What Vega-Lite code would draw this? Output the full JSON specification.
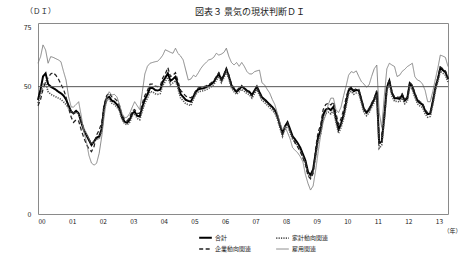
{
"$schema": "https://vega.github.io/schema/vega-lite/v6.json",
"width": 410, "height": 191,
"autosize": {"type": "none"},
"padding": {"left": 38, "top": 23, "right": 26, "bottom": 65},
"background": "white",
"config": {"font": "Noto Sans CJK JP", "view": {"stroke": "#8a8a8a", "strokeWidth": 1}},
"title": {"text": "図表３ 景気の現状判断ＤＩ", "fontSize": 9, "fontWeight": "normal", "color": "#222", "anchor": "middle", "frame": "group", "dx": 7, "offset": 5, "dy": 15},
"data": {"format": {"parse": {"month": "utc:'%Y-%m'"}}, "values": [
{"month":"2000-01","合計":44.8,"家計動向関連":43.5,"企業動向関連":42.5,"雇用関連":59.2},
{"month":"2000-02","合計":49,"家計動向関連":47,"企業動向関連":45,"雇用関連":61.8},
{"month":"2000-03","合計":54,"家計動向関連":51,"企業動向関連":49,"雇用関連":66.4},
{"month":"2000-04","合計":55.2,"家計動向関連":51.5,"企業動向関連":52,"雇用関連":64.4},
{"month":"2000-05","合計":51,"家計動向関連":48,"企業動向関連":53.5,"雇用関連":59.2},
{"month":"2000-06","合計":50,"家計動向関連":47,"企業動向関連":55,"雇用関連":61.8},
{"month":"2000-07","合計":49.4,"家計動向関連":46.5,"企業動向関連":55.5,"雇用関連":61.5},
{"month":"2000-08","合計":48.8,"家計動向関連":46,"企業動向関連":54.5,"雇用関連":61},
{"month":"2000-09","合計":48,"家計動向関連":45.5,"企業動向関連":53,"雇用関連":60.5},
{"month":"2000-10","合計":47.4,"家計動向関連":45,"企業動向関連":51,"雇用関連":59.8},
{"month":"2000-11","合計":46.5,"家計動向関連":44,"企業動向関連":49,"雇用関連":56},
{"month":"2000-12","合計":45,"家計動向関連":43,"企業動向関連":46,"雇用関連":52.6},
{"month":"2001-01","合計":42.5,"家計動向関連":41.5,"企業動向関連":41.5,"雇用関連":46},
{"month":"2001-02","合計":40.2,"家計動向関連":40,"企業動向関連":38,"雇用関連":42},
{"month":"2001-03","合計":39.5,"家計動向関連":39.5,"企業動向関連":36,"雇用関連":42},
{"month":"2001-04","合計":40.5,"家計動向関連":40,"企業動向関連":37,"雇用関連":43},
{"month":"2001-05","合計":39.5,"家計動向関連":39.5,"企業動向関連":36.5,"雇用関連":44.1},
{"month":"2001-06","合計":36,"家計動向関連":36.5,"企業動向関連":33,"雇用関連":38.5},
{"month":"2001-07","合計":33,"家計動向関連":33.5,"企業動向関連":30,"雇用関連":32.5},
{"month":"2001-08","合計":31,"家計動向関連":31.5,"企業動向関連":27.5,"雇用関連":28.5},
{"month":"2001-09","合計":29,"家計動向関連":29.5,"企業動向関連":25.5,"雇用関連":23},
{"month":"2001-10","合計":27.1,"家計動向関連":27.5,"企業動向関連":24.5,"雇用関連":20},
{"month":"2001-11","合計":28.5,"家計動向関連":28.5,"企業動向関連":26.5,"雇用関連":19.2},
{"month":"2001-12","合計":30,"家計動向関連":29.5,"企業動向関連":31,"雇用関連":19.9},
{"month":"2002-01","合計":30.4,"家計動向関連":29.5,"企業動向関連":33,"雇用関連":23.8},
{"month":"2002-02","合計":33.5,"家計動向関連":32.5,"企業動向関連":36,"雇用関連":30.5},
{"month":"2002-03","合計":42,"家計動向関連":41,"企業動向関連":43,"雇用関連":38.2},
{"month":"2002-04","合計":45.5,"家計動向関連":44.5,"企業動向関連":46.5,"雇用関連":45.4},
{"month":"2002-05","合計":46,"家計動向関連":45,"企業動向関連":47.5,"雇用関連":48},
{"month":"2002-06","合計":44.5,"家計動向関連":43.5,"企業動向関連":46,"雇用関連":46.7},
{"month":"2002-07","合計":44.1,"家計動向関連":43,"企業動向関連":45.5,"雇用関連":47},
{"month":"2002-08","合計":43,"家計動向関連":42,"企業動向関連":44.5,"雇用関連":46},
{"month":"2002-09","合計":41.5,"家計動向関連":40.5,"企業動向関連":42.5,"雇用関連":43},
{"month":"2002-10","合計":38,"家計動向関連":37,"企業動向関連":39,"雇用関連":39.5},
{"month":"2002-11","合計":36.2,"家計動向関連":35.5,"企業動向関連":37,"雇用関連":37.8},
{"month":"2002-12","合計":35.8,"家計動向関連":35,"企業動向関連":36.5,"雇用関連":38},
{"month":"2003-01","合計":37,"家計動向関連":36,"企業動向関連":38,"雇用関連":39.5},
{"month":"2003-02","合計":39.5,"家計動向関連":38.5,"企業動向関連":40.5,"雇用関連":42},
{"month":"2003-03","合計":40.2,"家計動向関連":39.5,"企業動向関連":41,"雇用関連":44.1},
{"month":"2003-04","合計":38.5,"家計動向関連":37.5,"企業動向関連":39.5,"雇用関連":42.5},
{"month":"2003-05","合計":38.3,"家計動向関連":37,"企業動向関連":39.5,"雇用関連":41},
{"month":"2003-06","合計":42,"家計動向関連":40.5,"企業動向関連":43.5,"雇用関連":48},
{"month":"2003-07","合計":45,"家計動向関連":43.5,"企業動向関連":46.5,"雇用関連":55},
{"month":"2003-08","合計":47,"家計動向関連":45.5,"企業動向関連":48.5,"雇用関連":58},
{"month":"2003-09","合計":49.5,"家計動向関連":48,"企業動向関連":51,"雇用関連":59.2},
{"month":"2003-10","合計":49.5,"家計動向関連":48,"企業動向関連":51,"雇用関連":59.5},
{"month":"2003-11","合計":48.7,"家計動向関連":47.2,"企業動向関連":50.2,"雇用関連":59.8},
{"month":"2003-12","合計":48.5,"家計動向関連":47,"企業動向関連":50,"雇用関連":60},
{"month":"2004-01","合計":48.8,"家計動向関連":47.3,"企業動向関連":50.3,"雇用関連":61},
{"month":"2004-02","合計":52,"家計動向関連":50.5,"企業動向関連":53.5,"雇用関連":62.4},
{"month":"2004-03","合計":53.5,"家計動向関連":52,"企業動向関連":55,"雇用関連":64.5},
{"month":"2004-04","合計":55.2,"家計動向関連":53.7,"企業動向関連":57.5,"雇用関連":64},
{"month":"2004-05","合計":52.3,"家計動向関連":50.8,"企業動向関連":54,"雇用関連":63.5},
{"month":"2004-06","合計":53,"家計動向関連":51.5,"企業動向関連":54.5,"雇用関連":63.1},
{"month":"2004-07","合計":53.9,"家計動向関連":52.4,"企業動向関連":55.5,"雇用関連":65.1},
{"month":"2004-08","合計":50.5,"家計動向関連":49,"企業動向関連":52,"雇用関連":63},
{"month":"2004-09","合計":47,"家計動向関連":45.5,"企業動向関連":48.5,"雇用関連":62},
{"month":"2004-10","合計":46,"家計動向関連":44.5,"企業動向関連":47.5,"雇用関連":60.5},
{"month":"2004-11","合計":44.8,"家計動向関連":43.3,"企業動向関連":46.3,"雇用関連":56.5},
{"month":"2004-12","合計":44.4,"家計動向関連":42.9,"企業動向関連":45.9,"雇用関連":52.6},
{"month":"2005-01","合計":44.1,"家計動向関連":42.6,"企業動向関連":45.6,"雇用関連":53},
{"month":"2005-02","合計":46.1,"家計動向関連":45.1,"企業動向関連":46.6,"雇用関連":54.5},
{"month":"2005-03","合計":48,"家計動向関連":47,"企業動向関連":48.5,"雇用関連":53.9},
{"month":"2005-04","合計":49,"家計動向関連":48,"企業動向関連":49.5,"雇用関連":55.5},
{"month":"2005-05","合計":49.2,"家計動向関連":48.2,"企業動向関連":49.7,"雇用関連":57.2},
{"month":"2005-06","合計":49.4,"家計動向関連":48.4,"企業動向関連":49.9,"雇用関連":58.5},
{"month":"2005-07","合計":49.8,"家計動向関連":48.8,"企業動向関連":50.3,"雇用関連":59.5},
{"month":"2005-08","合計":50.3,"家計動向関連":49.3,"企業動向関連":50.8,"雇用関連":60.5},
{"month":"2005-09","合計":51,"家計動向関連":50,"企業動向関連":51.5,"雇用関連":60.8},
{"month":"2005-10","合計":51.8,"家計動向関連":50.8,"企業動向関連":52.3,"雇用関連":61.5},
{"month":"2005-11","合計":53.5,"家計動向関連":52.5,"企業動向関連":54,"雇用関連":63.1},
{"month":"2005-12","合計":55,"家計動向関連":54,"企業動向関連":55.5,"雇用関連":62.4},
{"month":"2006-01","合計":52.6,"家計動向関連":51.6,"企業動向関連":53.1,"雇用関連":62.8},
{"month":"2006-02","合計":54.5,"家計動向関連":53.5,"企業動向関連":55,"雇用関連":63.5},
{"month":"2006-03","合計":56.8,"家計動向関連":55.8,"企業動向関連":57.3,"雇用関連":65.1},
{"month":"2006-04","合計":54,"家計動向関連":53,"企業動向関連":54.5,"雇用関連":61.8},
{"month":"2006-05","合計":50.5,"家計動向関連":49.5,"企業動向関連":51,"雇用関連":59.5},
{"month":"2006-06","合計":49,"家計動向関連":48,"企業動向関連":49.5,"雇用関連":58.5},
{"month":"2006-07","合計":48,"家計動向関連":47,"企業動向関連":48.5,"雇用関連":59.5},
{"month":"2006-08","合計":49,"家計動向関連":48,"企業動向関連":49.5,"雇用関連":58},
{"month":"2006-09","合計":50,"家計動向関連":49,"企業動向関連":50.5,"雇用関連":59.5},
{"month":"2006-10","合計":49.4,"家計動向関連":48.2,"企業動向関連":49.1,"雇用関連":58},
{"month":"2006-11","合計":48.5,"家計動向関連":47.3,"企業動向関連":48.2,"雇用関連":56},
{"month":"2006-12","合計":48,"家計動向関連":46.8,"企業動向関連":47.7,"雇用関連":55},
{"month":"2007-01","合計":46.7,"家計動向関連":45.5,"企業動向関連":46.4,"雇用関連":55},
{"month":"2007-02","合計":48.5,"家計動向関連":47.3,"企業動向関連":48.2,"雇用関連":55.9},
{"month":"2007-03","合計":50,"家計動向関連":48.8,"企業動向関連":49.7,"雇用関連":56.2},
{"month":"2007-04","合計":47.8,"家計動向関連":46.6,"企業動向関連":47.5,"雇用関連":56.5},
{"month":"2007-05","合計":45.8,"家計動向関連":44.6,"企業動向関連":45.5,"雇用関連":51.5},
{"month":"2007-06","合計":45,"家計動向関連":43.8,"企業動向関連":44.7,"雇用関連":50.7},
{"month":"2007-07","合計":44,"家計動向関連":42.8,"企業動向関連":43.7,"雇用関連":49},
{"month":"2007-08","合計":43,"家計動向関連":41.8,"企業動向関連":42.7,"雇用関連":47.5},
{"month":"2007-09","合計":42,"家計動向関連":40.8,"企業動向関連":41.7,"雇用関連":45},
{"month":"2007-10","合計":40.8,"家計動向関連":39.6,"企業動向関連":40.5,"雇用関連":43},
{"month":"2007-11","合計":38.5,"家計動向関連":37.3,"企業動向関連":38.2,"雇用関連":39.5},
{"month":"2007-12","合計":35,"家計動向関連":33.8,"企業動向関連":34.7,"雇用関連":36},
{"month":"2008-01","合計":31.7,"家計動向関連":30.5,"企業動向関連":31.4,"雇用関連":33},
{"month":"2008-02","合計":34.5,"家計動向関連":33.3,"企業動向関連":34.2,"雇用関連":34.3},
{"month":"2008-03","合計":36,"家計動向関連":34.8,"企業動向関連":35.7,"雇用関連":32},
{"month":"2008-04","合計":33.2,"家計動向関連":32,"企業動向関連":32.9,"雇用関連":29.5},
{"month":"2008-05","合計":30.5,"家計動向関連":29.3,"企業動向関連":30.2,"雇用関連":26},
{"month":"2008-06","合計":29.2,"家計動向関連":28.2,"企業動向関連":27.7,"雇用関連":25},
{"month":"2008-07","合計":27.8,"家計動向関連":26.8,"企業動向関連":26.3,"雇用関連":24},
{"month":"2008-08","合計":26,"家計動向関連":25,"企業動向関連":24.5,"雇用関連":22.5},
{"month":"2008-09","合計":23.5,"家計動向関連":22.5,"企業動向関連":22,"雇用関連":20.5},
{"month":"2008-10","合計":21,"家計動向関連":20,"企業動向関連":19.5,"雇用関連":15.5},
{"month":"2008-11","合計":16.5,"家計動向関連":15.5,"企業動向関連":15,"雇用関連":12},
{"month":"2008-12","合計":15.3,"家計動向関連":14.3,"企業動向関連":13.8,"雇用関連":9.4},
{"month":"2009-01","合計":17.5,"家計動向関連":16.5,"企業動向関連":16,"雇用関連":11},
{"month":"2009-02","合計":24,"家計動向関連":22.5,"企業動向関連":26,"雇用関連":17.3},
{"month":"2009-03","合計":30,"家計動向関連":28.5,"企業動向関連":32,"雇用関連":24},
{"month":"2009-04","合計":33,"家計動向関連":31.5,"企業動向関連":35,"雇用関連":31},
{"month":"2009-05","合計":39,"家計動向関連":37.5,"企業動向関連":41,"雇用関連":36},
{"month":"2009-06","合計":41,"家計動向関連":39.5,"企業動向関連":43,"雇用関連":38.9},
{"month":"2009-07","合計":41.5,"家計動向関連":40,"企業動向関連":43.5,"雇用関連":43},
{"month":"2009-08","合計":40.8,"家計動向関連":39.3,"企業動向関連":42.8,"雇用関連":45.5},
{"month":"2009-09","合計":42.1,"家計動向関連":40.6,"企業動向関連":44.1,"雇用関連":45.5},
{"month":"2009-10","合計":37.5,"家計動向関連":36,"企業動向関連":39.5,"雇用関連":41},
{"month":"2009-11","合計":33.2,"家計動向関連":31.7,"企業動向関連":35.2,"雇用関連":39.8},
{"month":"2009-12","合計":35.5,"家計動向関連":34,"企業動向関連":37.5,"雇用関連":42},
{"month":"2010-01","合計":39,"家計動向関連":37.5,"企業動向関連":41,"雇用関連":46.5},
{"month":"2010-02","合計":44,"家計動向関連":42.5,"企業動向関連":46,"雇用関連":50.5},
{"month":"2010-03","合計":48.5,"家計動向関連":47.3,"企業動向関連":49,"雇用関連":54.5},
{"month":"2010-04","合計":49.4,"家計動向関連":48.2,"企業動向関連":49.9,"雇用関連":55.9},
{"month":"2010-05","合計":48.2,"家計動向関連":47,"企業動向関連":48.7,"雇用関連":55.5},
{"month":"2010-06","合計":48.7,"家計動向関連":47.5,"企業動向関連":49.2,"雇用関連":56.2},
{"month":"2010-07","合計":48.5,"家計動向関連":47.3,"企業動向関連":49,"雇用関連":54},
{"month":"2010-08","合計":44.8,"家計動向関連":43.6,"企業動向関連":45.3,"雇用関連":52},
{"month":"2010-09","合計":41,"家計動向関連":39.8,"企業動向関連":41.5,"雇用関連":51},
{"month":"2010-10","合計":39.8,"家計動向関連":38.6,"企業動向関連":40.3,"雇用関連":49.8},
{"month":"2010-11","合計":41,"家計動向関連":39.8,"企業動向関連":41.5,"雇用関連":50.7},
{"month":"2010-12","合計":43,"家計動向関連":41.8,"企業動向関連":43.5,"雇用関連":54},
{"month":"2011-01","合計":45,"家計動向関連":43.8,"企業動向関連":45.5,"雇用関連":57},
{"month":"2011-02","合計":48,"家計動向関連":46.8,"企業動向関連":48.5,"雇用関連":58.5},
{"month":"2011-03","合計":27.8,"家計動向関連":25.8,"企業動向関連":30,"雇用関連":40},
{"month":"2011-04","合計":28.4,"家計動向関連":27,"企業動向関連":31,"雇用関連":34},
{"month":"2011-05","合計":38,"家計動向関連":36.5,"企業動向関連":39.5,"雇用関連":46},
{"month":"2011-06","合計":49.6,"家計動向関連":48.4,"企業動向関連":50.1,"雇用関連":57},
{"month":"2011-07","合計":52.3,"家計動向関連":51.1,"企業動向関連":52.8,"雇用関連":59.2},
{"month":"2011-08","合計":47.5,"家計動向関連":46.3,"企業動向関連":48,"雇用関連":58.5},
{"month":"2011-09","合計":45.4,"家計動向関連":44.2,"企業動向関連":45.9,"雇用関連":57.9},
{"month":"2011-10","合計":45.5,"家計動向関連":44.3,"企業動向関連":46,"雇用関連":54},
{"month":"2011-11","合計":45.2,"家計動向関連":44,"企業動向関連":45.7,"雇用関連":54.5},
{"month":"2011-12","合計":46.7,"家計動向関連":45.5,"企業動向関連":47.2,"雇用関連":56},
{"month":"2012-01","合計":44.5,"家計動向関連":43.3,"企業動向関連":45,"雇用関連":56.8},
{"month":"2012-02","合計":45.5,"家計動向関連":44.3,"企業動向関連":46,"雇用関連":57.9},
{"month":"2012-03","合計":51.3,"家計動向関連":50.1,"企業動向関連":51.8,"雇用関連":58.5},
{"month":"2012-04","合計":50,"家計動向関連":48.8,"企業動向関連":50.5,"雇用関連":59.2},
{"month":"2012-05","合計":47,"家計動向関連":45.8,"企業動向関連":47.5,"雇用関連":53.9},
{"month":"2012-06","合計":44.5,"家計動向関連":43.3,"企業動向関連":45,"雇用関連":52.6},
{"month":"2012-07","合計":43.6,"家計動向関連":42.4,"企業動向関連":44.1,"雇用関連":52.2},
{"month":"2012-08","合計":43,"家計動向関連":41.8,"企業動向関連":43.5,"雇用関連":51},
{"month":"2012-09","合計":40.5,"家計動向関連":39.3,"企業動向関連":41,"雇用関連":48.5},
{"month":"2012-10","合計":39.2,"家計動向関連":38,"企業動向関連":39.7,"雇用関連":44.1},
{"month":"2012-11","合計":39.5,"家計動向関連":38.3,"企業動向関連":40,"雇用関連":44.1},
{"month":"2012-12","合計":44,"家計動向関連":42.8,"企業動向関連":44.5,"雇用関連":48},
{"month":"2013-01","合計":49.5,"家計動向関連":48.3,"企業動向関連":50,"雇用関連":53},
{"month":"2013-02","合計":53.2,"家計動向関連":52,"企業動向関連":53.7,"雇用関連":57.5},
{"month":"2013-03","合計":57.3,"家計動向関連":56.1,"企業動向関連":57.8,"雇用関連":62.4},
{"month":"2013-04","合計":56.5,"家計動向関連":55.3,"企業動向関連":57,"雇用関連":62},
{"month":"2013-05","合計":55.7,"家計動向関連":54.5,"企業動向関連":56.2,"雇用関連":61.5},
{"month":"2013-06","合計":53,"家計動向関連":51.8,"企業動向関連":53.5,"雇用関連":57.9}
]},
"layer": [
{
"transform": [{"fold": ["合計", "家計動向関連", "企業動向関連", "雇用関連"], "as": ["系列", "DI"]}],
"mark": {"type": "line", "interpolate": "linear"},
"encoding": {
"x": {"field": "month", "type": "temporal", "scale": {"type": "utc", "nice": false},
"axis": {"values": [{"year":2000,"month":1,"date":1,"utc":true},{"year":2001,"month":1,"date":1,"utc":true},{"year":2002,"month":1,"date":1,"utc":true},{"year":2003,"month":1,"date":1,"utc":true},{"year":2004,"month":1,"date":1,"utc":true},{"year":2005,"month":1,"date":1,"utc":true},{"year":2006,"month":1,"date":1,"utc":true},{"year":2007,"month":1,"date":1,"utc":true},{"year":2008,"month":1,"date":1,"utc":true},{"year":2009,"month":1,"date":1,"utc":true},{"year":2010,"month":1,"date":1,"utc":true},{"year":2011,"month":1,"date":1,"utc":true},{"year":2012,"month":1,"date":1,"utc":true},{"year":2013,"month":1,"date":1,"utc":true}],
"labelExpr": "utcFormat(datum.value, '%y')", "labelAlign": "left", "labelFontSize": 6.5, "labelColor": "#222", "labelPadding": 4, "labelOverlap": false,
"ticks": false, "domain": false, "grid": false,
"title": "（年）", "titleFontSize": 6, "titleFontWeight": "normal", "titleColor": "#222", "titleX": 414, "titleY": 16, "titleAlign": "center", "titleBaseline": "middle"}},
"y": {"field": "DI", "type": "quantitative", "scale": {"domain": [0, 75], "nice": false},
"axis": {"values": [0, 50, 75], "labelFontSize": 7, "labelColor": "#222", "labelPadding": 7, "ticks": false, "domain": false, "grid": false,
"labelBaseline": {"condition": {"test": "datum.value == 75", "value": "top"}, "value": "middle"},
"title": "（ＤＩ）", "titleAngle": 0, "titleAlign": "left", "titleBaseline": "middle", "titleX": -13, "titleY": -12, "titleFontSize": 7.5, "titleFontWeight": "normal", "titleColor": "#222"}},
"color": {"field": "系列", "type": "nominal", "scale": {"domain": ["合計", "家計動向関連", "企業動向関連", "雇用関連"], "range": ["#000000", "#555555", "#222222", "#7a7a7a"]},
"legend": {"title": null, "orient": "none", "legendX": 160, "legendY": 207, "direction": "horizontal", "columns": 2, "symbolType": "stroke", "symbolSize": 160, "labelFontSize": 6, "labelColor": "#222", "labelOffset": 2, "columnPadding": 20, "rowPadding": 0}},
"strokeDash": {"field": "系列", "type": "nominal", "scale": {"domain": ["合計", "家計動向関連", "企業動向関連", "雇用関連"], "range": [[1, 0], [1.2, 1.2], [4, 2.5], [1, 0]]},
"legend": {"title": null, "orient": "none", "legendX": 160, "legendY": 207, "direction": "horizontal", "columns": 2, "symbolType": "stroke", "symbolSize": 160, "labelFontSize": 6, "labelColor": "#222", "labelOffset": 2, "columnPadding": 20, "rowPadding": 0}},
"strokeWidth": {"field": "系列", "type": "nominal", "scale": {"domain": ["合計", "家計動向関連", "企業動向関連", "雇用関連"], "range": [2, 0.9, 0.9, 1]},
"legend": {"title": null, "orient": "none", "legendX": 160, "legendY": 207, "direction": "horizontal", "columns": 2, "symbolType": "stroke", "symbolSize": 160, "labelFontSize": 6, "labelColor": "#222", "labelOffset": 2, "columnPadding": 20, "rowPadding": 0}}
}
},
{
"data": {"values": [{"v": 50}]},
"mark": {"type": "rule", "color": "#555555", "strokeWidth": 1},
"encoding": {"y": {"field": "v", "type": "quantitative"}}
}
]
}
